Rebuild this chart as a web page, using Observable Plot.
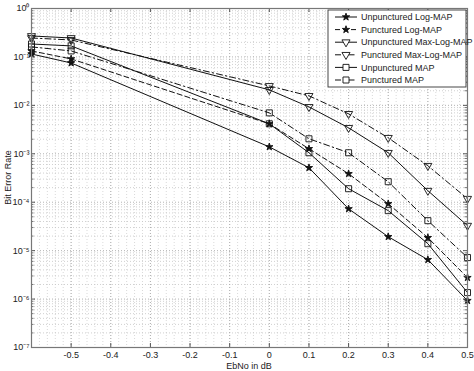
<!DOCTYPE html>
<html><head><meta charset="utf-8">
<script src="https://cdn.jsdelivr.net/npm/d3@7"></script>
<script src="https://cdn.jsdelivr.net/npm/@observablehq/plot@0.6"></script>
<style>body{margin:0;background:#fff;font-family:"Liberation Sans",Arial,sans-serif}</style>
</head><body><div id="chart"></div>
<script>
// EbNo (dB) sample points
const ebno = [-0.6, -0.5, 0, 0.1, 0.2, 0.3, 0.4, 0.5];
// Bit error rates
const unpuncLogMAP    = [0.115, 0.075, 0.00139, 0.000515, 7.3e-5, 1.94e-5, 6.5e-6, 9.3e-7];
const puncLogMAP      = [0.133, 0.091, 0.00416, 0.00127, 0.000387, 9.3e-5, 1.85e-5, 2.77e-6];
const unpuncMaxLogMAP = [0.271, 0.246, 0.0209, 0.0093, 0.00344, 0.00105, 0.000173, 3.28e-5];
const puncMaxLogMAP   = [0.246, 0.224, 0.0252, 0.0157, 0.00668, 0.00214, 0.000566, 0.000118];
const unpuncMAP       = [0.185, 0.169, 0.00416, 0.00105, 0.000190, 6.7e-5, 1.39e-5, 1.36e-6];
const puncMAP         = [0.161, 0.133, 0.0070, 0.00204, 0.00105, 0.000265, 4.16e-5, 7.2e-6];

const seriesNames = ["Unpunctured Log-MAP", "Punctured Log-MAP", "Unpunctured Max-Log-MAP",
                     "Punctured Max-Log-MAP", "Unpunctured MAP", "Punctured MAP"];
const seriesValues = [unpuncLogMAP, puncLogMAP, unpuncMaxLogMAP, puncMaxLogMAP, unpuncMAP, puncMAP];

const yTicks = [1e-7, 1e-6, 1e-5, 1e-4, 1e-3, 1e-2, 1e-1, 1];
const yTickLabels = ["10⁻⁷", "10⁻⁶", "10⁻⁵", "10⁻⁴", "10⁻³", "10⁻²", "10⁻¹", "10⁰"];
const xTicks = [-0.5, -0.4, -0.3, -0.2, -0.1, 0, 0.1, 0.2, 0.3, 0.4, 0.5];
const xTickLabels = ["-0.5", "-0.4", "-0.3", "-0.2", "-0.1", "0", "0.1", "0.2", "0.3", "0.4", "0.5"];
const xLabel = "EbNo in dB";
const yLabel = "Bit Error Rate";

// styles (not data)
const styles = [
  {dash: null, symbol: "star", fill: "#111", rotate: 0, r: 2.3},
  {dash: "5,3", symbol: "star", fill: "#111", rotate: 0, r: 2.3},
  {dash: null, symbol: "triangle", fill: "none", rotate: 180, r: 3.0},
  {dash: "6,3,1.5,3", symbol: "triangle", fill: "none", rotate: 180, r: 3.0},
  {dash: null, symbol: "square", fill: "none", rotate: 0, r: 3.4},
  {dash: "6,3,1.5,3", symbol: "square", fill: "none", rotate: 0, r: 3.4}
];

const rows = [];
seriesNames.forEach((name, i) => seriesValues[i].forEach((v, j) => rows.push({name, x: ebno[j], y: v, i})));

const yMinor = [];
for (let e = -7; e < 0; e++) for (let k = 2; k <= 9; k++) yMinor.push(k * Math.pow(10, e));
const xMinor = d3.range(-0.6, 0.5001, 0.02).map(v => +v.toFixed(2));

const W = 474, H = 371, mL = 31, mR = 7, mT = 8, mB = 24;
const pw = W - mL - mR, ph = H - mT - mB;
const ink = "#111";

const marks = [
  Plot.ruleX(xMinor, {stroke: "#cfcfcf", strokeDasharray: "1,2", strokeWidth: 0.8}),
  Plot.ruleY(yMinor, {stroke: "#c4c4c4", strokeDasharray: "1,2", strokeWidth: 0.8}),
  Plot.ruleX(xTicks, {stroke: "#aaa", strokeDasharray: "1,2", strokeWidth: 0.9}),
  Plot.ruleY(yTicks, {stroke: "#aaa", strokeDasharray: "1,2", strokeWidth: 0.9}),
];
seriesNames.forEach((name, i) => {
  const s = styles[i];
  const d = rows.filter(r => r.i === i);
  marks.push(Plot.line(d, {x: "x", y: "y", stroke: ink, strokeWidth: 1, strokeDasharray: s.dash || undefined}));
  marks.push(Plot.dot(d, {x: "x", y: "y", symbol: s.symbol, r: s.r, rotate: s.rotate,
    fill: s.fill, stroke: ink, strokeWidth: 0.9}));
});
// inward ticks
marks.push(
  Plot.tickY(yTicks, {stroke: "#555", insetRight: pw - 4}),
  Plot.tickY(yTicks, {stroke: "#555", insetLeft: pw - 4}),
  Plot.tickY(yMinor, {stroke: "#777", insetRight: pw - 2.5}),
  Plot.tickY(yMinor, {stroke: "#777", insetLeft: pw - 2.5}),
  Plot.tickX(xTicks, {stroke: "#555", insetTop: ph - 4}),
  Plot.tickX(xTicks, {stroke: "#555", insetBottom: ph - 4}),
  Plot.frame({stroke: "#777", strokeWidth: 1.2}),
  Plot.axisY(yTicks, {tickSize: 0, tickPadding: 2, label: null, fontSize: 9,
    tickFormat: d => yTickLabels[yTicks.indexOf(d)]}),
  Plot.axisX(xTicks, {tickSize: 0, tickPadding: 4, label: null, fontSize: 9,
    tickFormat: d => xTickLabels[xTicks.indexOf(d)]})
);

const chart = Plot.plot({
  width: W, height: H,
  marginLeft: mL, marginRight: mR, marginTop: mT, marginBottom: mB,
  style: {fontFamily: "'Liberation Sans', Arial, sans-serif", fontSize: "9px", color: "#222", background: "#fff"},
  x: {domain: [-0.6, 0.5]},
  y: {type: "log", domain: [1e-7, 1]},
  marks
});
document.getElementById("chart").appendChild(chart);

// axis titles and legend
const svg = d3.select(chart);
svg.append("text").attr("x", mL + pw / 2).attr("y", H - 2).attr("text-anchor", "middle")
  .attr("font-size", 9).attr("fill", "#222").text(xLabel);
svg.append("text").attr("transform", `translate(11,${mT + ph / 2}) rotate(-90)`).attr("text-anchor", "middle")
  .attr("font-size", 9).attr("fill", "#222").text(yLabel);

const lg = svg.append("g").attr("text-anchor", "start");
const lx = 328, ly = 10, lw = 138, lh = 77, rowH = 12.6;
lg.append("rect").attr("x", lx).attr("y", ly).attr("width", lw).attr("height", lh)
  .attr("fill", "#fff").attr("stroke", "#333").attr("stroke-width", 0.9);
const symMap = {star: d3.symbolStar, triangle: d3.symbolTriangle, square: d3.symbolSquare};
seriesNames.forEach((name, i) => {
  const s = styles[i];
  const cy = ly + 7 + i * rowH;
  lg.append("line").attr("x1", lx + 7).attr("x2", lx + 29).attr("y1", cy).attr("y2", cy)
    .attr("stroke", ink).attr("stroke-width", 1).attr("stroke-dasharray", s.dash || null);
  lg.append("path").attr("d", d3.symbol(symMap[s.symbol], Math.PI * s.r * s.r)())
    .attr("transform", `translate(${lx + 18},${cy}) rotate(${s.rotate})`)
    .attr("fill", s.fill === "none" ? "#fff" : s.fill).attr("stroke", ink).attr("stroke-width", 0.9);
  lg.append("text").attr("x", lx + 33).attr("y", cy + 3.2).attr("text-anchor", "start")
    .attr("font-size", 9).attr("fill", "#222").text(name);
});
</script>
</body></html>
